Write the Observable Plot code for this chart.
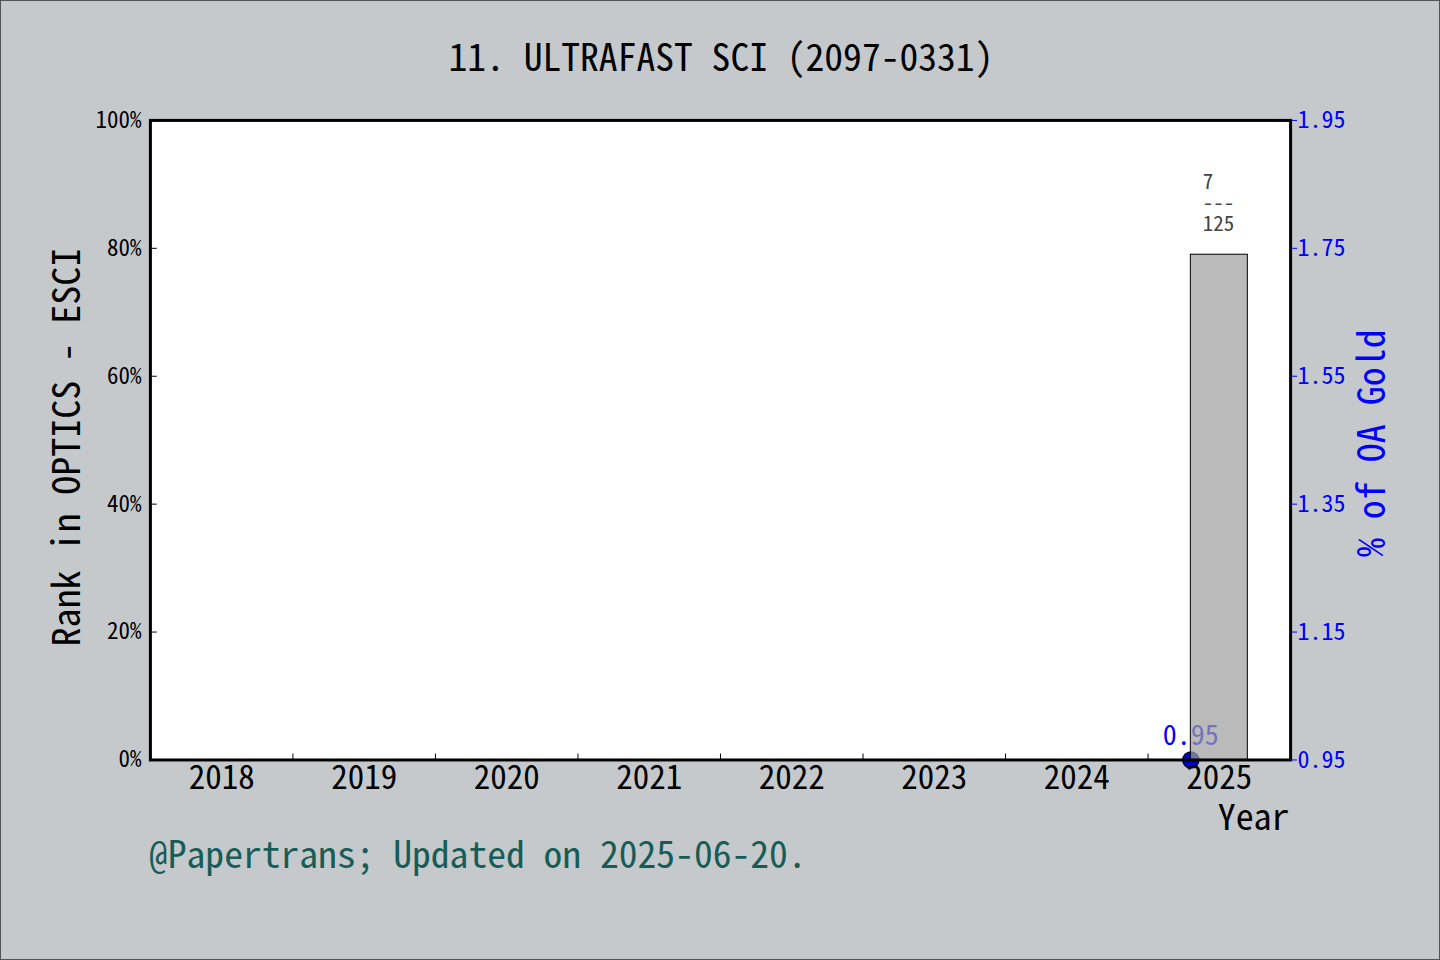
<!DOCTYPE html>
<html>
<head>
<meta charset="utf-8">
<script src="https://cdn.jsdelivr.net/npm/d3@7"></script>
<script src="https://cdn.jsdelivr.net/npm/@observablehq/plot@0.6"></script>
<style>
  html, body { margin: 0; padding: 0; background: #c6c9cc; }
  #wrap { position: relative; width: 1440px; height: 960px; background: #c6c9cc; box-sizing: border-box; border: 1px solid #555; overflow: hidden; }
  .mono { font-family: "Noto Sans Mono CJK SC", "DejaVu Sans Mono", monospace; }
  #title { position: absolute; left: 0px; width: 1440px; top: 35px; text-align: center; font-size: 37.6px; line-height: 1; color: #000; white-space: pre; }
  #chart { position: absolute; left: -1px; top: -1px; }
  #caption { position: absolute; left: 148px; top: 832px; font-size: 37.6px; line-height: 1; color: #175d57; white-space: pre; }
</style>
</head>
<body>
<div id="wrap">
  <div id="title" class="mono"></div>
  <div id="chart"></div>
  <div id="caption" class="mono"></div>
</div>
<script>
// ---- data ----
const titleText = "11. ULTRAFAST SCI (2097-0331)";
const captionText = "@Papertrans; Updated on 2025-06-20.";
const years = ["2018", "2019", "2020", "2021", "2022", "2023", "2024", "2025"];
const rankYears = ["2025"];
const rankPct = [0.79];
const rankNum = [7];
const rankTotal = [125];
const oaYears = ["2025"];
const oaGold = [0.95];
const leftTicks = [0, 0.2, 0.4, 0.6, 0.8, 1.0];
const rightTicks = [0.95, 1.15, 1.35, 1.55, 1.75, 1.95];
const rightDomain = [0.95, 1.95];
const yLabelLeft = "Rank in OPTICS - ESCI";
const yLabelRight = "% of OA Gold";
const xLabel = "Year";

// ---- build ----
document.getElementById("title").textContent = titleText;
document.getElementById("caption").textContent = captionText;

const rankData = rankYears.map((y, i) => ({year: y, pct: rankPct[i], n: rankNum[i], total: rankTotal[i]}));
const oaData = oaYears.map((y, i) => ({year: y, v: oaGold[i]}));
const toY = v => (v - rightDomain[0]) / (rightDomain[1] - rightDomain[0]);
const fromY = f => f * (rightDomain[1] - rightDomain[0]) + rightDomain[0];

const W = 1440, H = 960, mL = 150, mR = 149, mT = 120, mB = 200;
const step = (W - mL - mR) / years.length;
const FONT = '"Noto Sans Mono CJK SC", "DejaVu Sans Mono", monospace';

const tickRight = {draw(ctx, l) { ctx.moveTo(0, 0); ctx.lineTo(l, 0); }};
const tickUp = {draw(ctx, l) { ctx.moveTo(0, 0); ctx.lineTo(0, -l); }};

const chart = Plot.plot({
  width: W, height: H,
  marginLeft: mL, marginRight: mR, marginTop: mT, marginBottom: mB,
  style: {background: "transparent", fontFamily: FONT, overflow: "visible"},
  x: {type: "band", domain: years, paddingInner: 0.6, paddingOuter: 0.3, round: false, axis: null},
  y: {domain: [0, 1], axis: null},
  marks: [
    Plot.frame({fill: "white", stroke: null}),
    // OA gold point + label (under the bar)
    Plot.text(oaData, {x: "year", y: d => toY(d.v), text: d => d.v.toFixed(2), dx: -step * 0.2, dy: -24, fill: "blue", fontSize: 28}),
    Plot.dot(oaData, {x: "year", y: d => toY(d.v), dx: -step * 0.2, r: 8, fill: "#0000cc", stroke: "#000033", strokeWidth: 1.5}),
    // rank bar
    Plot.barY(rankData, {x: "year", y: "pct", fill: "#a0a0a0", fillOpacity: 0.72, stroke: "black", strokeWidth: 1}),
    Plot.text(rankData, {x: "year", y: "pct", text: d => `${d.n}\n---\n${d.total}`, textAnchor: "start", lineAnchor: "bottom", lineHeight: 1.0, dx: -16.5, dy: -24, fontSize: 21, fill: "#444"}),
    // left axis
    Plot.axisY({anchor: "left", ticks: leftTicks, tickFormat: d => Math.round(d * 100) + "%", tickSize: 0, tickPadding: 9, fontSize: 23, label: null}),
    Plot.vector(leftTicks, {y: d => d, frameAnchor: "left", length: 6, anchor: "start", shape: tickRight, stroke: "black", strokeWidth: 1}),
    // right axis
    Plot.axisY({anchor: "right", ticks: rightTicks.map(toY), tickFormat: d => fromY(d).toFixed(2), tickSize: 6, tickPadding: 1, fontSize: 24, color: "blue", label: null}),
    // bottom axis
    Plot.axisX({anchor: "bottom", tickSize: 0, tickPadding: 6, fontSize: 33, label: null}),
    Plot.vector(years.slice(1), {x: d => d, y: 0, dx: -step / 2, length: 6, anchor: "start", shape: tickUp, stroke: "black", strokeWidth: 1}),
    // axis labels
    Plot.text([yLabelLeft], {frameAnchor: "left", textAnchor: "middle", rotate: -90, dx: -83, dy: 7, fontSize: 38, fill: "black"}),
    Plot.text([yLabelRight], {frameAnchor: "right", textAnchor: "middle", rotate: -90, dx: 82, dy: 3, fontSize: 38, fill: "blue"}),
    Plot.text([xLabel], {frameAnchor: "bottom-right", textAnchor: "end", dy: 70, dx: -1, fontSize: 36, fill: "black"}),
    Plot.frame({stroke: "black", strokeWidth: 3})
  ]
});
document.getElementById("chart").appendChild(chart);
</script>
</body>
</html>
